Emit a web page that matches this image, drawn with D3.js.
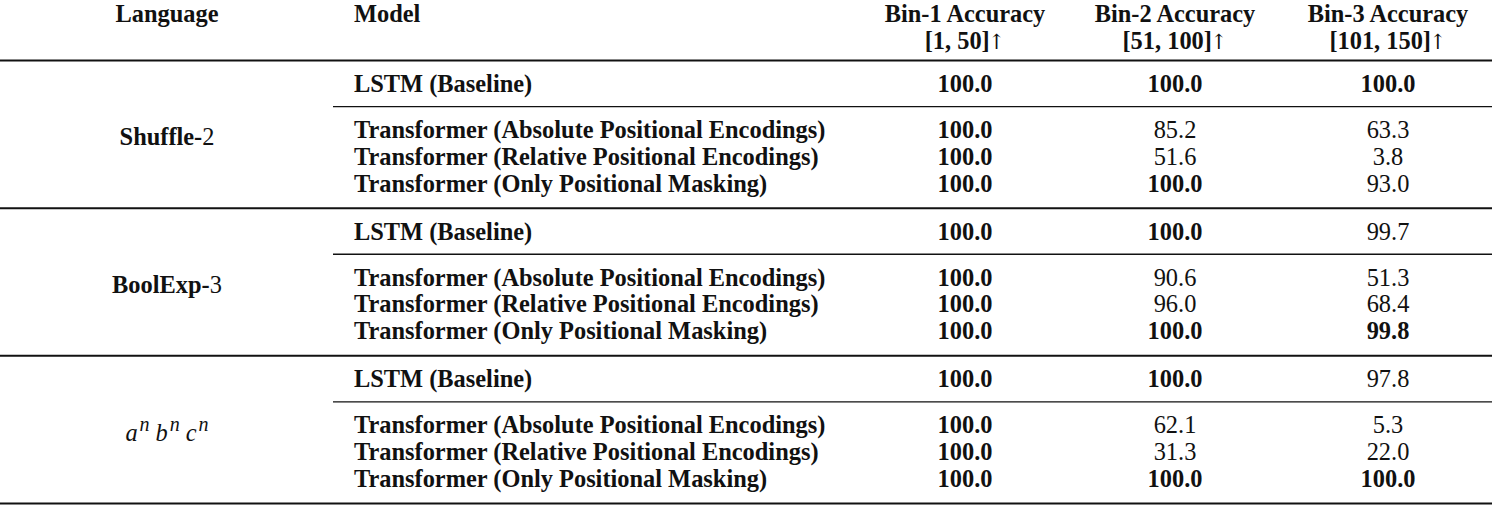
<!DOCTYPE html>
<html>
<head>
<meta charset="utf-8">
<script src="https://cdn.jsdelivr.net/npm/d3@7"></script>
<style>
  body { margin: 0; background: #fff; }
  svg text { font-family: "Liberation Serif", "Times New Roman", serif; font-size: 24.4px; fill: #111; }
  .rule { stroke: #111; }
</style>
</head>
<body>
<div id="table"></div>
<script>
/***** Table data *****/
const languages = ["Shuffle-2", "BoolExp-3", "a^n b^n c^n"];
const models = ["LSTM (Baseline)",
                "Transformer (Absolute Positional Encodings)",
                "Transformer (Relative Positional Encodings)",
                "Transformer (Only Positional Masking)"];
const binTitles = ["Bin-1 Accuracy", "Bin-2 Accuracy", "Bin-3 Accuracy"];
const binRanges = ["[1, 50]", "[51, 100]", "[101, 150]"];

// one value per (language, model), languages in order
const bin1 = [100.0, 100.0, 100.0, 100.0,
              100.0, 100.0, 100.0, 100.0,
              100.0, 100.0, 100.0, 100.0];
const bin2 = [100.0, 85.2, 51.6, 100.0,
              100.0, 90.6, 96.0, 100.0,
              100.0, 62.1, 31.3, 100.0];
const bin3 = [100.0, 63.3, 3.8, 93.0,
              99.7, 51.3, 68.4, 99.8,
              97.8, 5.3, 22.0, 100.0];
const bins = [bin1, bin2, bin3];

/***** Layout *****/
const width = 1495, height = 507;
const svg = d3.select("#table").append("svg")
    .attr("width", width)
    .attr("height", height);

// column anchors
const x = d3.scaleOrdinal()
    .domain(["lang", "model", "b0", "b1", "b2"])
    .range([167, 354, 965, 1175, 1388]);

// group boundaries (header rule -> bottom rule)
const yGroup = d3.scaleLinear().domain([0, languages.length]).range([60.5, 503.5]);
const gh = yGroup(1) - yGroup(0);
// row centres inside a group, as a fraction of the group height
const rowFrac = [0.159, 0.471, 0.652, 0.833];
const midRuleFrac = 0.312;
const yRow = (g, r) => yGroup(g) + rowFrac[r] * gh;
const base = 8; // centre -> baseline

const ruleX = [0, 1492];

/***** Header *****/
const header = svg.append("g").attr("font-weight", "bold");
header.append("text").attr("x", x("lang")).attr("y", 21.5).attr("text-anchor", "middle").text("Language");
header.append("text").attr("x", x("model")).attr("y", 21.5).text("Model");
binTitles.forEach(function(t, i) {
    header.append("text").attr("x", x("b" + i)).attr("y", 21.5).attr("text-anchor", "middle").text(t);
    const l2 = header.append("text").attr("x", x("b" + i)).attr("y", 48.5).attr("text-anchor", "middle");
    l2.append("tspan").text(binRanges[i]);
    l2.append("tspan").attr("font-weight", "normal").attr("font-family", "DejaVu Serif")
        .attr("font-size", "21px").attr("dx", -2).text("\u2191");
});

/***** Rules *****/
const rules = svg.append("g");
d3.range(languages.length + 1).forEach(function(g) {
    rules.append("line").attr("class", "rule")
        .attr("x1", ruleX[0]).attr("x2", ruleX[1])
        .attr("y1", yGroup(g)).attr("y2", yGroup(g))
        .attr("stroke-width", 2);
    if (g < languages.length) {
        const ym = yGroup(g) + midRuleFrac * gh;
        rules.append("line").attr("class", "rule")
            .attr("x1", 333).attr("x2", ruleX[1])
            .attr("y1", ym).attr("y2", ym)
            .attr("stroke-width", 1.3);
    }
});

/***** Language labels *****/
function drawLanguage(t, label, cx, cy) {
    const txt = t.append("text").attr("x", cx).attr("y", cy + base).attr("text-anchor", "middle");
    if (label.indexOf("^") >= 0) {
        // math: a^n b^n c^n
        txt.attr("font-style", "italic").attr("font-size", "28px");
        label.split(" ").forEach(function(p, i) {
            const parts = p.split("^");
            txt.append("tspan").attr("dy", i === 0 ? 0 : 10).attr("dx", i === 0 ? 0 : 6).text(parts[0]);
            txt.append("tspan").attr("font-size", "20px").attr("dy", -10).attr("dx", 2).text(parts[1]);
        });
    } else {
        const k = label.lastIndexOf("-");
        txt.append("tspan").attr("font-weight", "bold").text(label.slice(0, k + 1));
        txt.append("tspan").text(label.slice(k + 1));
    }
}

const body = svg.append("g");
languages.forEach(function(lang, g) {
    drawLanguage(body, lang, x("lang"), yGroup(g) + gh * 0.52);

    models.forEach(function(m, r) {
        const cy = yRow(g, r);
        body.append("text").attr("x", x("model")).attr("y", cy + base)
            .attr("font-weight", "bold").text(m);

        bins.forEach(function(vals, b) {
            const groupVals = vals.slice(g * models.length, (g + 1) * models.length);
            const best = d3.max(groupVals);
            const v = groupVals[r];
            body.append("text").attr("x", x("b" + b)).attr("y", cy + base)
                .attr("text-anchor", "middle")
                .attr("font-weight", v === best ? "bold" : "normal")
                .text(d3.format(".1f")(v));
        });
    });
});
</script>
</body>
</html>
